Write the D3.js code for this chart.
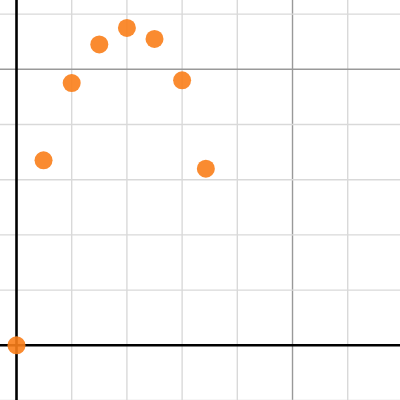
<!DOCTYPE html>
<html>
<head>
<meta charset="utf-8">
<script src="https://cdn.jsdelivr.net/npm/d3@7"></script>
<style>
  html, body { margin: 0; padding: 0; background: #fff; }
  svg { display: block; }
</style>
</head>
<body>
<svg id="chart" width="400" height="400"></svg>
<script>
// Points (graph units)
const pointX = [0, 0.49, 1.0, 1.5, 2.0, 2.5, 3.0, 3.43];
const pointY = [0, 3.35, 4.75, 5.45, 5.75, 5.55, 4.8, 3.2];

const gridX = [-1, 0, 1, 2, 3, 4, 5, 6, 7];
const gridY = [-1, 0, 1, 2, 3, 4, 5, 6, 7];
const majorEvery = 5;

const WIDTH = 400;
const HEIGHT = 400;
const COLOR_POINT = "#fa7e19";

const svg = d3.select("#chart");

const x = d3.scaleLinear().domain([-0.299, 6.947]).range([0, WIDTH]);
const y = d3.scaleLinear().domain([-0.991, 6.255]).range([HEIGHT, 0]);

// minor grid first, then major, then axes on top
const grid = svg.append("g").attr("class", "grid");

grid.selectAll("line.vx")
  .data(gridX.filter((d) => d !== 0))
  .join("line")
  .attr("x1", (d) => x(d)).attr("x2", (d) => x(d))
  .attr("y1", 0).attr("y2", HEIGHT)
  .attr("stroke", (d) => d % majorEvery === 0 ? "#999" : "#d9d9d9")
  .attr("stroke-width", 1.4);

grid.selectAll("line.hy")
  .data(gridY.filter((d) => d !== 0))
  .join("line")
  .attr("x1", 0).attr("x2", WIDTH)
  .attr("y1", (d) => y(d)).attr("y2", (d) => y(d))
  .attr("stroke", (d) => d % majorEvery === 0 ? "#999" : "#d9d9d9")
  .attr("stroke-width", 1.4);

// axes
svg.append("line")
  .attr("x1", x(0)).attr("x2", x(0))
  .attr("y1", 0).attr("y2", HEIGHT)
  .attr("stroke", "#000").attr("stroke-width", 2.6);

svg.append("line")
  .attr("x1", 0).attr("x2", WIDTH)
  .attr("y1", y(0)).attr("y2", y(0))
  .attr("stroke", "#000").attr("stroke-width", 2.6);

// points
const pts = pointX.map((v, i) => ({ x: v, y: pointY[i] }));
svg.append("g").selectAll("circle")
  .data(pts)
  .join("circle")
  .attr("cx", (d) => x(d.x))
  .attr("cy", (d) => y(d.y))
  .attr("r", 9)
  .attr("fill", COLOR_POINT)
  .attr("fill-opacity", 0.9);
</script>
</body>
</html>
